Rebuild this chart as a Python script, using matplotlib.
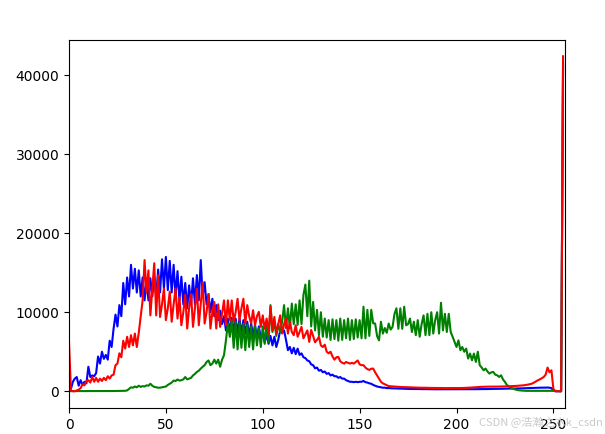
import numpy as np
import matplotlib
matplotlib.use("Agg")
import matplotlib.pyplot as plt

# Histogram counts per intensity level (0..255) for the B, G, R channels
blue = [
    0, 300, 1200, 1600, 1800, 700, 1400, 800, 1200, 1000,
    3100, 1800, 2000, 1900, 2300, 4400, 3500, 5000, 4100, 4600,
    4000, 6400, 5600, 7900, 9700, 8200, 10900, 9500, 13700, 11000,
    14400, 12000, 16000, 13000, 15500, 12500, 15300, 12000, 14400, 11500,
    14000, 11500, 14300, 12000, 14600, 12000, 15400, 12500, 16700, 13000,
    17000, 12800, 16500, 12500, 16000, 12000, 15200, 11500, 14500, 11000,
    13700, 10500, 13400, 11000, 14300, 11000, 14700, 11500, 16600, 12000,
    13800, 11000, 12300, 10000, 11700, 9500, 10900, 9000, 10200, 8500,
    9500, 7700, 9200, 7500, 9300, 7500, 9200, 7400, 9200, 7300,
    9000, 7300, 8800, 7000, 8600, 7000, 8400, 6800, 8200, 6700,
    7300, 6200, 7200, 6000, 7000, 5800, 6900, 5600, 6500, 7700,
    7400, 7700, 6500, 5200, 5600, 4800, 5500, 4700, 5400, 4600,
    4800, 4300, 4200, 3900, 3800, 3400, 3300, 2900, 3000, 2600,
    2700, 2400, 2500, 2200, 2300, 2000, 2100, 1900, 1900, 1700,
    1800, 1600, 1600, 1400, 1300, 1200, 1200, 1150, 1200, 1150,
    1200, 1200, 1300, 1150, 1100, 1000, 950, 800, 700, 600,
    550, 500, 450, 450, 400, 400, 380, 370, 360, 350,
    340, 330, 320, 310, 300, 300, 290, 290, 280, 280,
    280, 270, 270, 270, 260, 260, 260, 260, 250, 250,
    250, 250, 250, 250, 250, 250, 250, 250, 250, 250,
    250, 250, 250, 250, 250, 250, 250, 260, 260, 260,
    260, 270, 270, 270, 280, 280, 280, 290, 290, 300,
    300, 300, 310, 310, 320, 320, 330, 330, 340, 340,
    350, 350, 360, 360, 370, 380, 380, 390, 400, 410,
    420, 430, 440, 450, 450, 460, 460, 470, 450, 400,
    100, 0, 0, 0, 0, 41500,
]

green = [
    0, 10, 20, 20, 20, 20, 20, 20, 20, 20,
    20, 20, 20, 20, 20, 20, 30, 30, 30, 30,
    30, 30, 30, 30, 40, 40, 40, 50, 50, 60,
    100, 300, 500, 450, 600, 500, 700, 550, 650, 600,
    750, 700, 950, 700, 550, 500, 450, 450, 500, 550,
    600, 800, 950, 1100, 1350, 1300, 1480, 1350, 1400, 1500,
    1800, 1500, 1600, 1700, 2000, 2200, 2440, 2600, 2870, 3100,
    3300, 3700, 3900, 3300, 3500, 4000, 3500, 4000, 3100, 4000,
    4560, 6440, 8570, 6880, 9000, 5500, 8800, 5300, 8700, 5500,
    8500, 5200, 8400, 5600, 8200, 5300, 8300, 5800, 8000, 5600,
    8200, 6000, 8500, 6200, 10900, 7500, 8800, 7000, 8500, 7500,
    8800, 10900, 8000, 10500, 8000, 11100, 8500, 11000, 8400, 11500,
    8500, 12200, 13500, 9500, 14000, 8200, 11300, 7700, 10300, 7100,
    10000, 6900, 9200, 6800, 9000, 6500, 9100, 6600, 9000, 6400,
    9200, 6500, 9000, 6700, 9200, 6500, 9000, 6600, 9100, 6800,
    9000, 6700, 10700, 6700, 10300, 7000, 10300, 8600, 8570, 7000,
    6440, 8800, 7300, 8000, 7400, 8570, 7800, 8150, 9800, 10500,
    7900, 10500, 7900, 10700, 8350, 8500, 9200, 7500, 8800, 7100,
    9000, 6900, 8500, 9600, 7100, 9800, 7100, 10000, 7300, 9000,
    10000, 7300, 11200, 7700, 9800, 7500, 9800, 7500, 6900, 6250,
    5600, 6440, 5200, 5600, 5000, 5400, 4140, 4770, 3920, 4770,
    3710, 5000, 3290, 3000, 2650, 2870, 2500, 2230, 2400, 2440,
    2100, 2020, 1810, 2020, 1500, 1180, 800, 630, 450, 340,
    250, 180, 130, 100, 80, 60, 50, 50, 50, 50,
    50, 50, 50, 50, 50, 50, 50, 50, 50, 50,
    50, 50, 30, 20, 0, 41000,
]

red = [
    6300, 100, 0, 0, 100, 200, 400, 900, 750, 1300,
    1400, 1100, 1800, 1200, 1700, 1200, 1600, 1300, 1700, 1400,
    1900, 1600, 2000, 2100, 3300, 3500, 4800, 4300, 6400, 5400,
    6900, 5600, 7100, 5800, 7300, 5600, 7400, 9400, 11500, 16600,
    12500, 15300, 9600, 13000, 16200, 9600, 14700, 9400, 11000, 13000,
    9000, 10500, 12600, 8800, 11000, 13000, 9200, 11900, 8350, 10000,
    12200, 7940, 10500, 12300, 8150, 10500, 13000, 8350, 11000, 13800,
    8570, 10000, 12300, 7940, 10000, 11300, 7940, 11000, 8150, 9800,
    11500, 8350, 11500, 9000, 11500, 8800, 10000, 11700, 9000, 10500,
    11700, 8570, 10900, 9500, 8570, 10250, 8350, 9500, 10050, 8150,
    9600, 7900, 9200, 7300, 10700, 7700, 9400, 7300, 8500, 9600,
    7300, 8500, 9200, 7300, 8800, 7500, 7100, 8350, 6900, 7500,
    8150, 6700, 7200, 7700, 6250, 7750, 7000, 6200, 6500, 6900,
    5800, 5600, 5900, 5000, 4800, 5000, 4400, 4000, 4300, 4350,
    3800, 3600, 3500, 3700, 3600, 3500, 3600, 3500, 3700, 3900,
    3400, 3300, 3300, 3000, 2800, 2700, 2850, 2870, 2400, 2000,
    1600, 1200, 1000, 880, 750, 650, 630, 600, 580, 560,
    550, 540, 530, 520, 510, 500, 490, 480, 470, 460,
    460, 450, 450, 440, 440, 430, 430, 420, 420, 420,
    410, 410, 410, 400, 400, 400, 400, 400, 390, 390,
    390, 400, 400, 410, 420, 430, 440, 450, 470, 490,
    510, 530, 550, 560, 570, 580, 580, 580, 590, 590,
    590, 590, 600, 600, 600, 610, 620, 630, 640, 650,
    660, 680, 700, 720, 740, 760, 800, 850, 900, 970,
    1100, 1250, 1390, 1500, 1650, 1800, 2100, 3000, 2400, 2650,
    300, 0, 0, 0, 0, 42400,
]

channels = [("b", blue), ("g", green), ("r", red)]

fig = plt.figure(figsize=(6.05, 4.34), dpi=100)
ax = fig.add_axes([69 / 605, 26 / 434, 496 / 605, 368.5 / 434])
for col, hist in channels:
    ax.plot(np.arange(len(hist)), hist, color=col)
ax.set_xlim([0, 256])

fig.text(479 / 605, (434 - 423) / 434, "CSDN @浩瀚之水k_csdn", color="#c4c4c4",
         fontsize=8, ha="left", va="center", alpha=0.9,
         family=["Noto Sans CJK SC", "DejaVu Sans"])

fig.savefig("out.png", dpi=100)
